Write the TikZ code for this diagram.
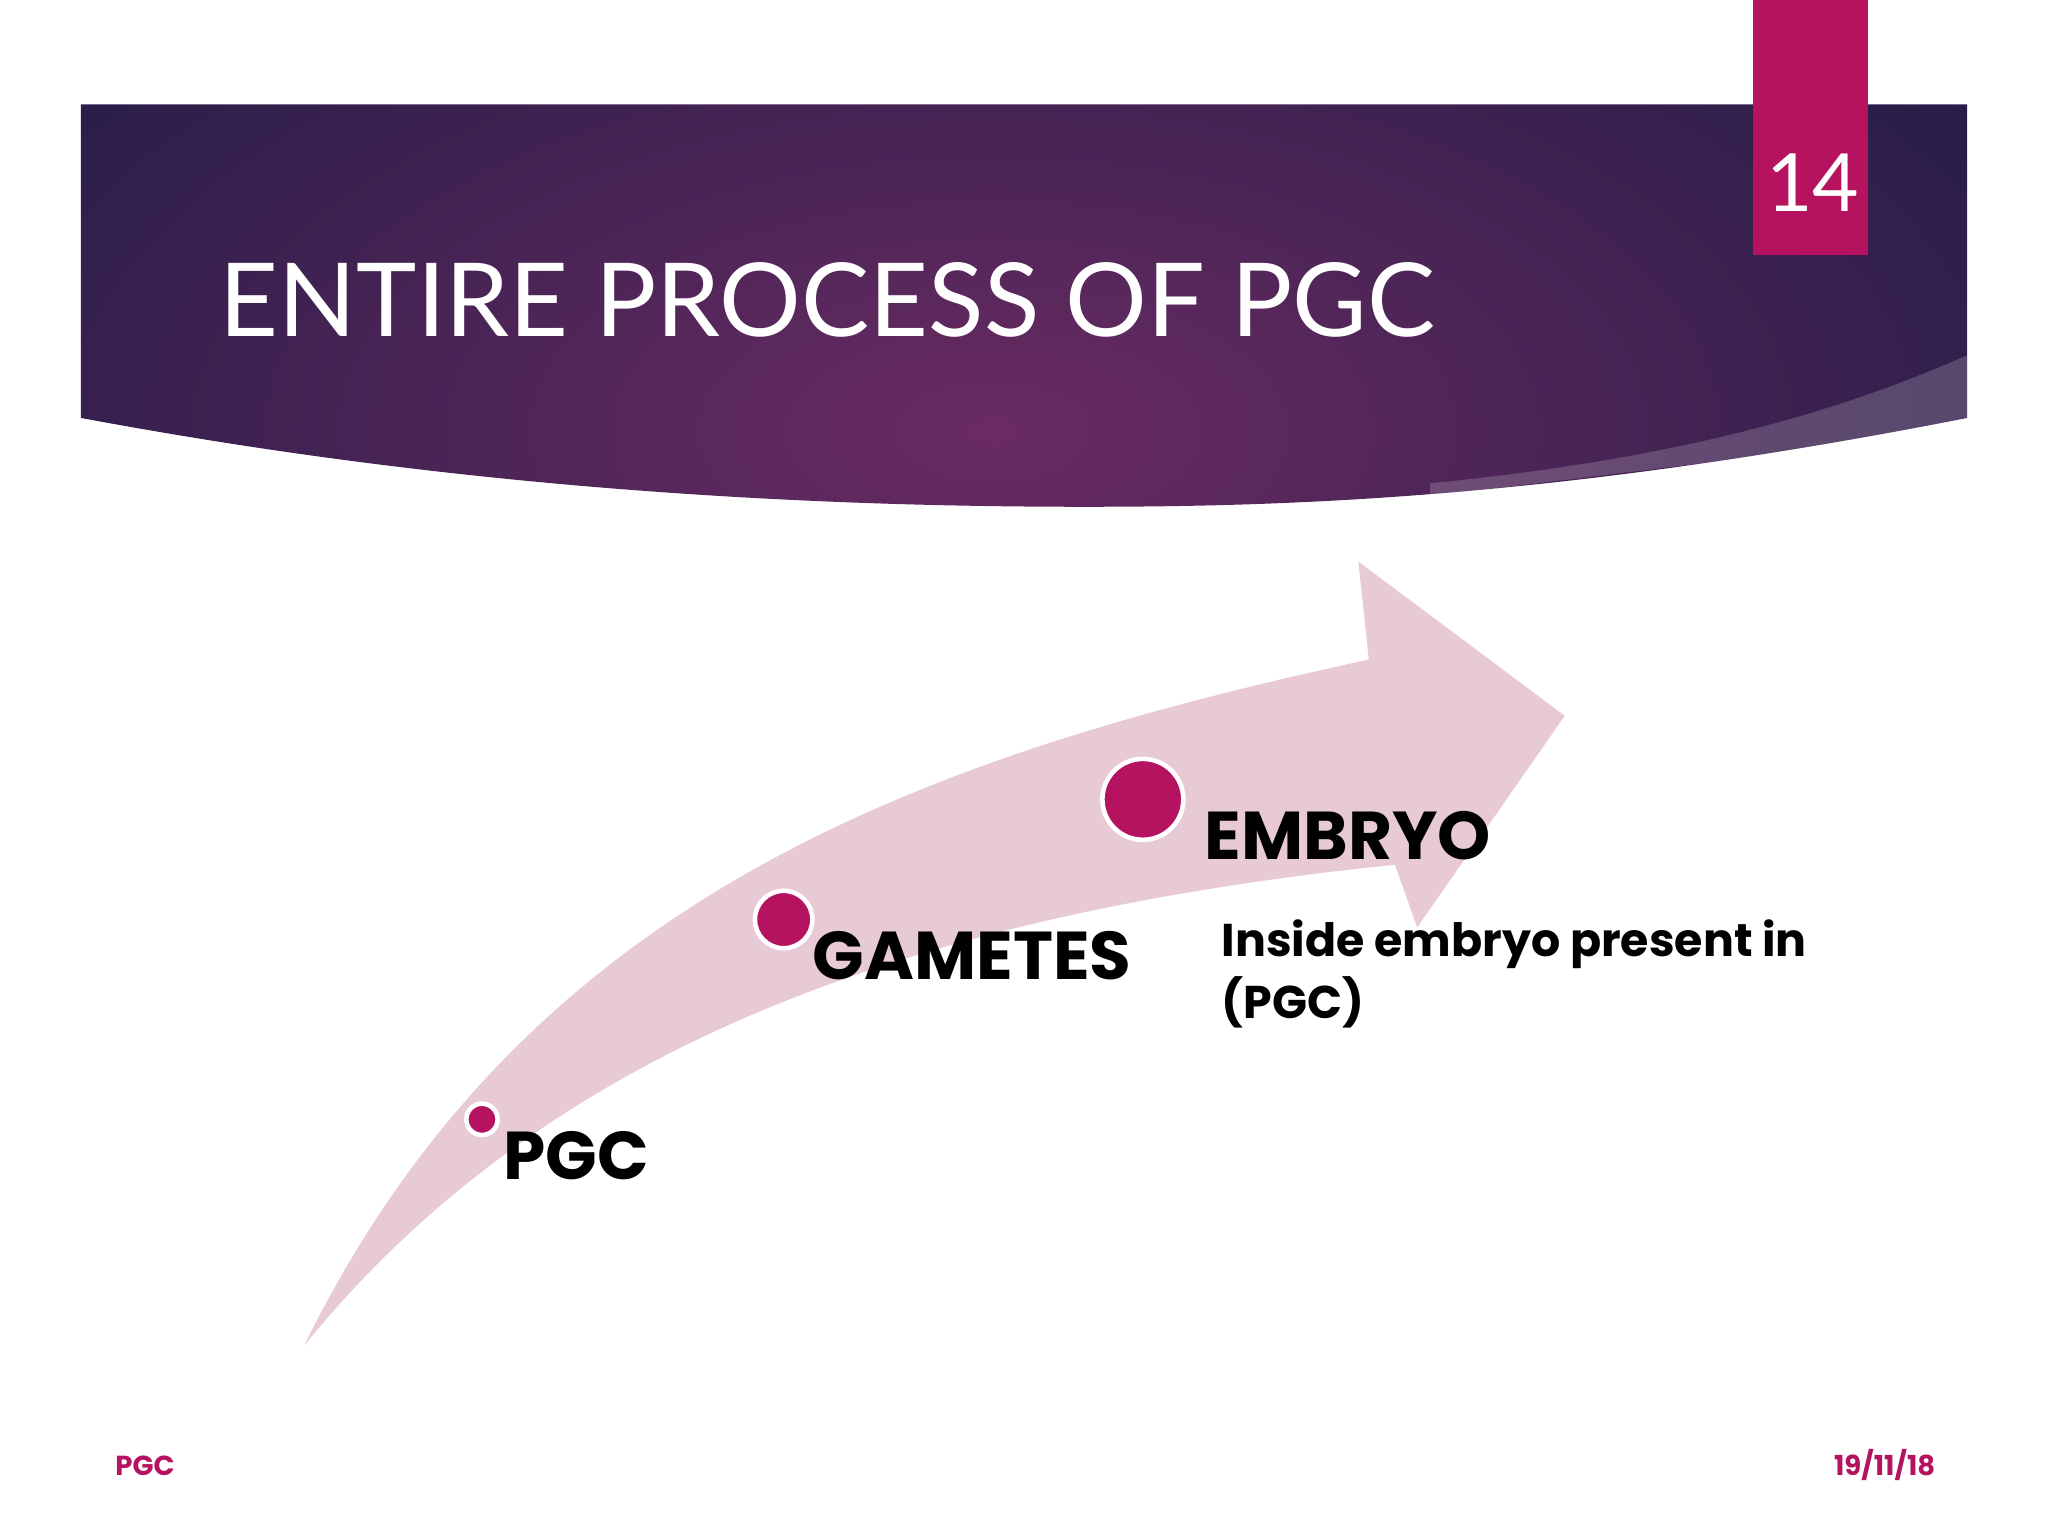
\documentclass[tikz,border=0pt]{standalone}
\usepackage{fontspec}
\setmainfont{Poppins}
\newfontfamily\titlefont{Lato}
\definecolor{mag}{HTML}{B5135F}
\definecolor{pinkarrow}{HTML}{E7CAD5}
\definecolor{dpurp}{HTML}{271D48}
\definecolor{mpurp}{HTML}{6A2B62}
\tikzset{dot/.style={fill=mag,draw=white,line width=2pt},
 lab/.style={anchor=base west,inner sep=0,font=\bfseries\fontsize{29.5}{36}\selectfont}}
\begin{document}
\begin{tikzpicture}[x=0.02cm,y=-0.02cm]
\useasboundingbox[fill=white] (0,0) rectangle (1568,1176);
% banner
\begin{scope}
\clip (62,80) -- (1506,80) -- (1506,320) .. controls (1200,380) and (1000,388) .. (830,388) .. controls (500,388) and (250,355) .. (62,320) -- cycle;
\shade[inner color=mpurp,outer color=dpurp] (760,330) ellipse (900 and 450);
\fill[white,opacity=0.18] (1095,370) .. controls (1300,350) and (1420,310) .. (1506,272) -- (1506,330) -- (1095,380) -- cycle;
\end{scope}
\fill[mag] (1342,0) rectangle (1430,195);
\node[white,font=\titlefont\fontsize{35}{40}\selectfont,inner sep=0] (num) at (1388,140) {14};
\node[white,font=\titlefont\fontsize{44.5}{50}\selectfont,anchor=base west,inner sep=0] (title) at (168,258) {ENTIRE PROCESS OF PGC};
% arrow
\fill[pinkarrow] (233,1030) .. controls (400,690) and (700,580) .. (1048,505) -- (1040,430) -- (1198,548) -- (1085,710) -- (1068,662) .. controls (700,700) and (420,800) .. (233,1030) -- cycle;
\draw[dot] (369,857) circle (12);
\draw[dot] (600,704) circle (22);
\draw[dot] (875,612) circle (31);
\node[lab] (pgc) at (385,903) {PGC};
\node[lab] (gam) at (622,750) {GAMETES};
\node[lab] (emb) at (922,658) {EMBRYO};
\node[anchor=base west,inner sep=0,align=left,font=\bfseries\fontsize{20}{27}\selectfont] (txt) at (935,780) {Inside embryo present in\\(PGC)};
\node[anchor=base west,inner sep=0,text=mag,font=\bfseries\fontsize{12}{14}\selectfont] (f1) at (88,1130) {PGC};
\node[anchor=base east,inner sep=0,text=mag,font=\bfseries\fontsize{12}{14}\selectfont] (f2) at (1482,1130) {19/11/18};
\end{tikzpicture}
\end{document}
